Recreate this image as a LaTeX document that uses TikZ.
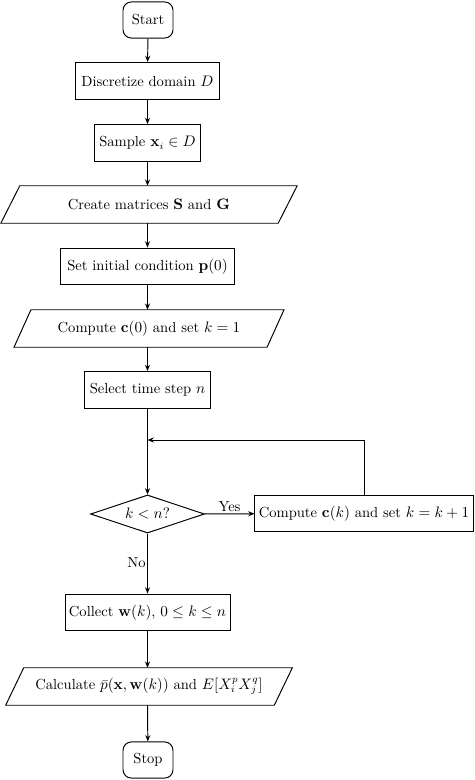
\documentclass[tikz,border=0pt]{standalone}
\usetikzlibrary{shapes.geometric,arrows.meta,calc}
\begin{document}
\begin{tikzpicture}[x=0.72pt,y=-0.72pt,
  every node/.style={inner sep=2pt,font=\fontsize{10.5pt}{12.6pt}\selectfont},
  line/.style={line width=0.7pt},
  arr/.style={line width=0.7pt,-{Stealth[length=4.5pt,width=3.6pt]}},
  term/.style={draw,line width=0.7pt,rounded corners=6pt,minimum width=36pt,minimum height=26pt},
  proc/.style={draw,line width=0.7pt,minimum height=26.6pt},
  io/.style={minimum height=26.6pt},
  dec/.style={draw,line width=0.7pt,diamond,aspect=3,inner sep=0pt,minimum width=82pt,minimum height=27.4pt},
  lbl/.style={inner sep=1pt}]
\useasboundingbox (0,0) rectangle (474,780);
\newcommand\paradraw[2]{\draw[line] ([xshift=#2]#1.north west) -- (#1.north east) -- ([xshift=-#2]#1.south east) -- (#1.south west) -- cycle;}

\node[term] (start) at (148,20) {Start};
\node[proc,minimum width=103pt] (disc) at (147.5,81) {Discretize domain $D$};
\node[proc,minimum width=77pt] (samp) at (147.5,143) {Sample $\mathbf{x}_i \in D$};
\node[io,minimum width=213pt] (mat) at (149,204.5) {Create matrices $\mathbf{S}$ and $\mathbf{G}$};
\paradraw{mat}{13.7pt}
\node[proc,minimum width=124.6pt] (init) at (147.5,266.5) {Set initial condition $\mathbf{p}(0)$};
\node[io,minimum width=194pt] (c0) at (149,328.5) {Compute $\mathbf{c}(0)$ and set $k=1$};
\paradraw{c0}{12.2pt}
\node[proc,minimum width=91.4pt] (sel) at (147.5,390) {Select time step $n$};
\coordinate (junc) at (147.5,440);
\node[dec] (test) at (147.5,514) {$k<n?$};
\node[proc,minimum width=157pt] (ck) at (364,513.5) {Compute $\mathbf{c}(k)$ and set $k=k+1$};
\node[proc,minimum width=118.8pt] (coll) at (147.5,612.5) {Collect $\mathbf{w}(k)$, $0\le k\le n$};
\node[io,minimum width=206pt] (calc) at (149,686.5) {Calculate $\bar{p}(\mathbf{x},\mathbf{w}(k))$ and $E[X_i^pX_j^q]$};
\paradraw{calc}{13pt}
\node[term] (stop) at (148,760) {Stop};

\draw[arr] (start) -- (disc);
\draw[arr] (disc) -- (samp);
\draw[arr] (samp) -- (samp |- mat.north);
\draw[arr] (samp |- mat.south) -- (init);
\draw[arr] (init) -- (init |- c0.north);
\draw[arr] (init |- c0.south) -- (sel);
\draw[arr] (sel) -- (test);
\draw[arr] (test) -- node[lbl,above] {Yes} (ck);
\draw[arr] (ck.north) |- (junc);
\draw[arr] (test) -- node[lbl,left,pos=0.48] {No} (coll);
\draw[arr] (coll) -- (coll |- calc.north);
\draw[arr] (coll |- calc.south) -- (stop);
\end{tikzpicture}
\end{document}
